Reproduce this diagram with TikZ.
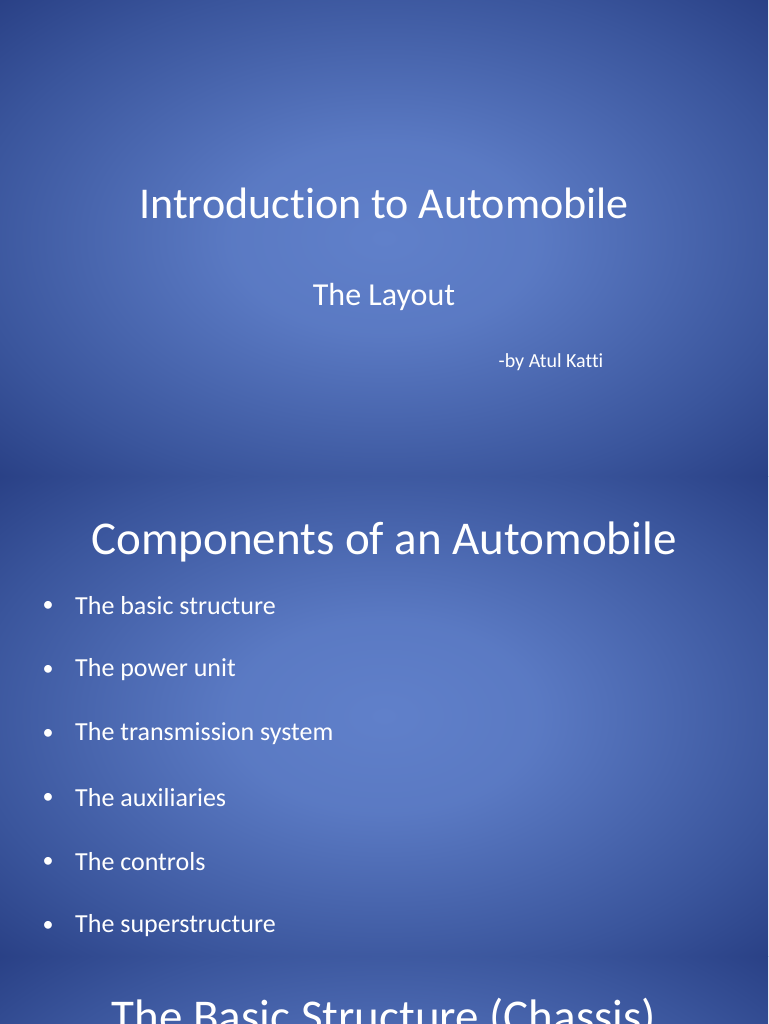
\documentclass[tikz,border=0pt]{standalone}
\usepackage{fontspec}
\setmainfont[Ligatures=CommonOff]{Carlito}
\definecolor{inner}{HTML}{6080CA}
\definecolor{mid}{HTML}{3A559C}
\definecolor{outer}{HTML}{15276A}
\pgfdeclareradialshading{slide}{\pgfpoint{0bp}{0bp}}{color(0bp)=(inner); color(10bp)=(inner!85!mid); color(27bp)=(mid); color(46bp)=(outer); color(75bp)=(outer)}
\begin{document}
\begin{tikzpicture}[x=1pt,y=-1pt,
  txt/.style={text=white,inner sep=0pt},
  bul/.style={txt,anchor=west,font=\fontsize{26}{30}\selectfont}]
\useasboundingbox (0,0) rectangle (768,1024);
\begin{scope}
\clip (0,0) rectangle (768,1024);
\shade[shading=slide] (0,0) rectangle (768,476);
\shade[shading=slide] (0,476) rectangle (768,956);
\shade[shading=slide] (0,956) rectangle (768,1436);
\end{scope}
\node[txt,font=\fontsize{44}{50}\selectfont] (t1) at (384,203) {Introduction to Automobile};
\node[txt,font=\fontsize{32}{36}\selectfont] (t2) at (384,297) {The Layout};
\node[txt,font=\fontsize{20}{24}\selectfont] (t3) at (551,362) {-by Atul Katti};
\node[txt,font=\fontsize{47}{52}\selectfont] (t4) at (384,542) {Components of an Automobile};
\foreach \y/\s [count=\i] in {606/The basic structure,670/The power unit,734/The transmission system,798/The auxiliaries,862/The controls,926/The superstructure}{
  \node[txt,font=\fontsize{22}{26}\selectfont] (d\i) at (48,\y) {•};
  \node[bul] (b\i) at (75,\y) {\s};
}
\node[txt,font=\fontsize{47}{52}\selectfont,anchor=north] (t5) at (384,998) {The  Basic Structure (Chassis)};
\end{tikzpicture}
\end{document}
